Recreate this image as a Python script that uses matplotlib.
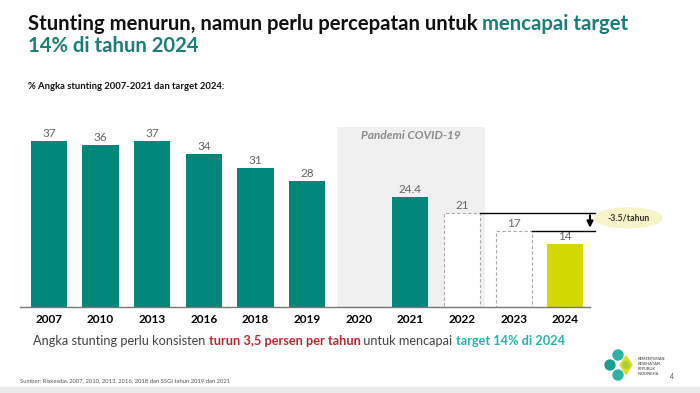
import matplotlib.pyplot as plt
from matplotlib.patches import Rectangle, Ellipse, Circle, Polygon

# data
years = ['2007', '2010', '2013', '2016', '2018', '2019', '2020', '2021', '2022', '2023', '2024']
actual = [37, 36, 37, 34, 31, 28, None, 24.4, None, None, None]
projected = [None, None, None, None, None, None, None, None, 21, 17, None]
target = [None, None, None, None, None, None, None, None, None, None, 14]
covid_years = ['2020', '2021', '2022']
step_label = '-3.5/tahun'

TEAL = '#00877a'
LIME = '#d2d900'
GREY_TXT = '#666666'
FONT = 'Lato'

plt.rcParams['font.family'] = [FONT, 'DejaVu Sans']

fig = plt.figure(figsize=(7, 3.93), dpi=100)
ax = fig.add_axes([20 / 700, 86 / 393, 570 / 700, 180 / 393])

x = list(range(len(years)))
w = 0.70

# covid shading
i0 = years.index(covid_years[0])
i1 = years.index(covid_years[-1])
ax.add_patch(Rectangle((i0 - 0.42, 0), (i1 - i0) + 0.87, 40, color='#f0f0f0', zorder=0, lw=0))
ax.text((i0 + i1) / 2 + 0.02, 38.2, 'Pandemi COVID-19', ha='center', va='center',
        fontsize=8.5, style='italic', fontweight='bold', color='#8a8a8a')

for i, v in enumerate(actual):
    if v is not None:
        ax.bar(i, v, width=w, color=TEAL, zorder=2)
        ax.text(i, v + 0.4, f'{v:g}', ha='center', va='bottom', fontsize=8.5, color=GREY_TXT)
for i, v in enumerate(projected):
    if v is not None:
        ax.bar(i, v, width=w, facecolor='white', edgecolor='#aaaaaa', ls=(0, (3, 2)), lw=0.8, zorder=2)
        ax.text(i, v + 0.4, f'{v:g}', ha='center', va='bottom', fontsize=8.5, color=GREY_TXT)
for i, v in enumerate(target):
    if v is not None:
        ax.bar(i, v, width=w, color=LIME, zorder=2)
        ax.text(i, v + 0.4, f'{v:g}', ha='center', va='bottom', fontsize=8.5, color=GREY_TXT)

# step lines and arrow
p = [(i, v) for i, v in enumerate(projected) if v is not None]
xr = 10.58
for i, v in p:
    ax.plot([i + w / 2, xr], [v, v], color='black', lw=1, zorder=3, clip_on=False)
ax.annotate('', xy=(xr - 0.1, p[1][1]), xytext=(xr - 0.1, p[0][1]),
            arrowprops=dict(arrowstyle='-|>', color='black', lw=1.5, mutation_scale=9),
            annotation_clip=False)
ymid = (p[0][1] + p[1][1]) / 2 + 0.8
ax.add_patch(Ellipse((11.22, ymid), 1.3, 4.4, color='#f6f4c8', clip_on=False, zorder=1))
ax.text(11.22, ymid, step_label, ha='center', va='center',
        fontsize=6.3, fontweight='bold', color='#333333', clip_on=False)

ax.set_xlim(-0.56, 10.48)
ax.set_ylim(0, 40)
ax.set_xticks(x)
ax.set_xticklabels(years, fontweight='bold', fontsize=8.5)
ax.tick_params(axis='x', length=0, pad=5)
ax.set_yticks([])
for s in ['top', 'right', 'left']:
    ax.spines[s].set_visible(False)
ax.spines['bottom'].set_color('#777777')
ax.spines['bottom'].set_linewidth(1)


def rich_text(xpix, ypix, parts, size, weight='normal'):
    fig.canvas.draw()
    r = fig.canvas.get_renderer()
    xx = xpix
    for txt, col, wt in parts:
        t = fig.text(xx / 700, 1 - ypix / 393, txt, color=col, fontsize=size,
                     fontweight=wt, va='baseline', ha='left')
        bb = t.get_window_extent(renderer=r)
        xx += bb.width


rich_text(28, 30, [('Stunting menurun, namun perlu percepatan untuk ', '#111111', 'bold'),
                   ('mencapai target', '#1a7f76', 'bold')], 14.6)
rich_text(28, 52, [('14% di tahun 2024', '#1a7f76', 'bold')], 14.6)
fig.text(28 / 700, 1 - 89 / 393, '% Angka stunting 2007-2021 dan target 2024:', fontsize=6.8,
         fontweight='bold', color='#111111', va='baseline')
rich_text(33, 345, [('Angka stunting perlu konsisten ', '#444444', 'normal'),
                    ('turun 3,5 persen per tahun', '#c0262d', 'bold'),
                    (' untuk mencapai ', '#444444', 'normal'),
                    ('target 14% di 2024', '#27b3b0', 'bold')], 9.2)
fig.text(20 / 700, 1 - 382 / 393,
         'Sumber: Riskesdas 2007, 2010, 2013, 2016, 2018 dan SSGI tahun 2019 dan 2021',
         fontsize=4.2, color='#555555', va='baseline')

# logo
lax = fig.add_axes([596 / 700, 1 - 385 / 393, 50 / 700, 40 / 393])
lax.set_xlim(0, 50)
lax.set_ylim(0, 40)
lax.axis('off')
lax.add_patch(Circle((14, 20), 5, color='#1b9e8f'))
lax.add_patch(Circle((22, 30), 5, color='#2bb3a3'))
lax.add_patch(Circle((22, 10), 5, color='#2bb3a3'))
lax.add_patch(Polygon([(24, 20), (30, 29), (36, 20), (30, 11)], color='#d8dd1f'))
lax.add_patch(Circle((30, 20), 3, color='#aacf3c'))
fig.text(638 / 700, 1 - 357 / 393, 'KEMENTERIAN\nKESEHATAN\nREPUBLIK\nINDONESIA', fontsize=2.8,
         color='#333333', va='top', linespacing=1.3)
fig.text(670 / 700, 1 - 379 / 393, '4', fontsize=5, color='#555555', va='baseline')
fig.patches.append(Rectangle((0, 0), 1, 6 / 393, transform=fig.transFigure, color='#ececec'))

fig.savefig('out.png', dpi=100)
